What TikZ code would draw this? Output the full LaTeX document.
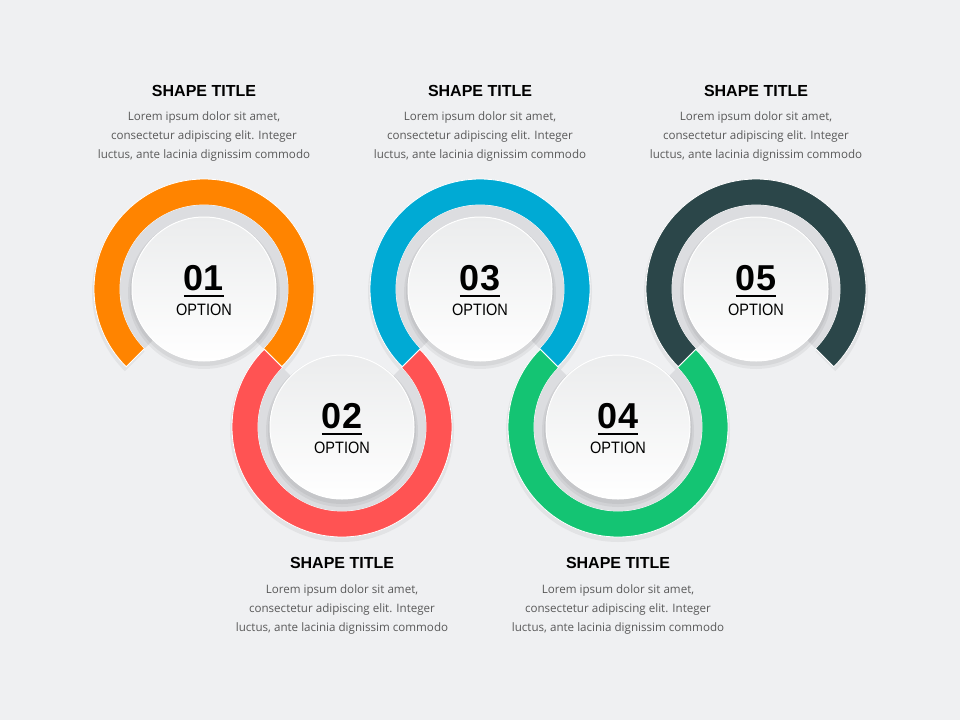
\documentclass[tikz,border=0pt]{standalone}
\usepackage{fontspec}
\setmainfont{Liberation Sans}
\newfontfamily\bodyfont{Open Sans}
\newfontfamily\optfont[FakeStretch=0.88]{Liberation Sans}
\definecolor{bggray}{HTML}{EFF0F2}
\definecolor{textgray}{HTML}{595959}
\definecolor{bandgray}{HTML}{DCDDE0}
\definecolor{diskgray}{HTML}{EBECED}
\definecolor{ringorange}{HTML}{FF8400}
\definecolor{ringred}{HTML}{FF5353}
\definecolor{ringblue}{HTML}{00AAD4}
\definecolor{ringgreen}{HTML}{14C473}
\definecolor{ringdark}{HTML}{2B4649}

\begin{document}
\begin{tikzpicture}[
    x=1pt, y=1pt,
    title/.style={
        font=\bfseries\fontsize{16}{19}\selectfont,
        text=black
    },
    body/.style={
        font=\bodyfont\fontsize{11.6}{19}\selectfont,
        text=textgray,
        align=center
    },
    number/.style={
        font=\bfseries\fontsize{36}{36}\selectfont,
        inner sep=0pt,
        anchor=base
    },
    option/.style={
        font=\optfont\fontsize{16.5}{17}\selectfont,
        inner sep=0pt,
        anchor=base
    },
    disk/.style={
        circle,
        minimum size=144pt,
        inner sep=0pt,
        top color=diskgray,
        bottom color=white,
        draw=white,
        line width=1pt
    },
    ring/.style={draw=white, line width=0.8pt},
    band/.style={fill=bandgray},
    shade/.style={fill=black, opacity=0.05}
]
\useasboundingbox (0,0) rectangle (960,-720);
\fill[bggray] (0,0) rectangle (960,-720);

\coordinate (c1) at (204,-289);
\coordinate (c2) at (342,-427);
\coordinate (c3) at (480,-289);
\coordinate (c4) at (618,-427);
\coordinate (c5) at (756,-289);

% ring shadows
\fill[shade] ([yshift=-3pt]c1) ++(-45:112) arc[start angle=-45, end angle=225, radius=112] -- ++(45:28) arc[start angle=225, end angle=-45, radius=84] -- cycle;
\fill[shade] ([yshift=-3pt]c2) ++(135:112) arc[start angle=135, end angle=405, radius=112] -- ++(225:28) arc[start angle=405, end angle=135, radius=84] -- cycle;
\fill[shade] ([yshift=-3pt]c3) ++(-45:112) arc[start angle=-45, end angle=225, radius=112] -- ++(45:28) arc[start angle=225, end angle=-45, radius=84] -- cycle;
\fill[shade] ([yshift=-3pt]c4) ++(135:112) arc[start angle=135, end angle=405, radius=112] -- ++(225:28) arc[start angle=405, end angle=135, radius=84] -- cycle;
\fill[shade] ([yshift=-3pt]c5) ++(-45:112) arc[start angle=-45, end angle=225, radius=112] -- ++(45:28) arc[start angle=225, end angle=-45, radius=84] -- cycle;

% coloured rings
\draw[ring, fill=ringorange] (c1) ++(-45:110) arc[start angle=-45, end angle=225, radius=110] -- ++(45:26) arc[start angle=225, end angle=-45, radius=84] -- cycle;
\draw[ring, fill=ringred] (c2) ++(135:110) arc[start angle=135, end angle=405, radius=110] -- ++(225:26) arc[start angle=405, end angle=135, radius=84] -- cycle;
\draw[ring, fill=ringblue] (c3) ++(-45:110) arc[start angle=-45, end angle=225, radius=110] -- ++(45:26) arc[start angle=225, end angle=-45, radius=84] -- cycle;
\draw[ring, fill=ringgreen] (c4) ++(135:110) arc[start angle=135, end angle=405, radius=110] -- ++(225:26) arc[start angle=405, end angle=135, radius=84] -- cycle;
\draw[ring, fill=ringdark] (c5) ++(-45:110) arc[start angle=-45, end angle=225, radius=110] -- ++(45:26) arc[start angle=225, end angle=-45, radius=84] -- cycle;

% inner gray bands
\fill[band] (c1) ++(-45:84) arc[start angle=-45, end angle=225, radius=84] -- ++(45:12) arc[start angle=225, end angle=-45, radius=72] -- cycle;
\fill[band] (c2) ++(135:84) arc[start angle=135, end angle=405, radius=84] -- ++(225:12) arc[start angle=405, end angle=135, radius=72] -- cycle;
\fill[band] (c3) ++(-45:84) arc[start angle=-45, end angle=225, radius=84] -- ++(45:12) arc[start angle=225, end angle=-45, radius=72] -- cycle;
\fill[band] (c4) ++(135:84) arc[start angle=135, end angle=405, radius=84] -- ++(225:12) arc[start angle=405, end angle=135, radius=72] -- cycle;
\fill[band] (c5) ++(-45:84) arc[start angle=-45, end angle=225, radius=84] -- ++(45:12) arc[start angle=225, end angle=-45, radius=72] -- cycle;

% disk shadows
\fill[shade] ([yshift=-4pt]c1) circle (76);
\fill[shade] ([yshift=-3pt]c1) circle (74);
\fill[shade] ([yshift=-4pt]c2) circle (76);
\fill[shade] ([yshift=-3pt]c2) circle (74);
\fill[shade] ([yshift=-4pt]c3) circle (76);
\fill[shade] ([yshift=-3pt]c3) circle (74);
\fill[shade] ([yshift=-4pt]c4) circle (76);
\fill[shade] ([yshift=-3pt]c4) circle (74);
\fill[shade] ([yshift=-4pt]c5) circle (76);
\fill[shade] ([yshift=-3pt]c5) circle (74);

% white disks
\node [disk] (d1) at (c1) {};
\node [disk] (d2) at (c2) {};
\node [disk] (d3) at (c3) {};
\node [disk] (d4) at (c4) {};
\node [disk] (d5) at (c5) {};

% numbers and options
\node [number] (n1) at ([yshift=-1.7pt]d1.center) {01};
\node [number] (n2) at ([yshift=-1.7pt]d2.center) {02};
\node [number] (n3) at ([yshift=-1.7pt]d3.center) {03};
\node [number] (n4) at ([yshift=-1.7pt]d4.center) {04};
\node [number] (n5) at ([yshift=-1.7pt]d5.center) {05};

\draw[line width=2pt] ([yshift=-5pt]n1.south west) -- ([yshift=-5pt]n1.south east);
\draw[line width=2pt] ([yshift=-5pt]n2.south west) -- ([yshift=-5pt]n2.south east);
\draw[line width=2pt] ([yshift=-5pt]n3.south west) -- ([yshift=-5pt]n3.south east);
\draw[line width=2pt] ([yshift=-5pt]n4.south west) -- ([yshift=-5pt]n4.south east);
\draw[line width=2pt] ([yshift=-5pt]n5.south west) -- ([yshift=-5pt]n5.south east);

\node [option] (o1) at ([yshift=-26pt]d1.center) {OPTION};
\node [option] (o2) at ([yshift=-26pt]d2.center) {OPTION};
\node [option] (o3) at ([yshift=-26pt]d3.center) {OPTION};
\node [option] (o4) at ([yshift=-26pt]d4.center) {OPTION};
\node [option] (o5) at ([yshift=-26pt]d5.center) {OPTION};

% titles and texts
\node [title] (t1) at (204,-90.5) {SHAPE TITLE};
\node [title] (t3) at (480,-90.5) {SHAPE TITLE};
\node [title] (t5) at (756,-90.5) {SHAPE TITLE};
\node [title] (t2) at (342,-563) {SHAPE TITLE};
\node [title] (t4) at (618,-563) {SHAPE TITLE};

\node [body] (p1) at (204,-136) {Lorem ipsum dolor sit amet,\\consectetur adipiscing elit. Integer\\luctus, ante lacinia dignissim commodo};
\node [body] (p3) at (480,-136) {Lorem ipsum dolor sit amet,\\consectetur adipiscing elit. Integer\\luctus, ante lacinia dignissim commodo};
\node [body] (p5) at (756,-136) {Lorem ipsum dolor sit amet,\\consectetur adipiscing elit. Integer\\luctus, ante lacinia dignissim commodo};
\node [body] (p2) at (342,-609) {Lorem ipsum dolor sit amet,\\consectetur adipiscing elit. Integer\\luctus, ante lacinia dignissim commodo};
\node [body] (p4) at (618,-609) {Lorem ipsum dolor sit amet,\\consectetur adipiscing elit. Integer\\luctus, ante lacinia dignissim commodo};
\end{tikzpicture}
\end{document}
